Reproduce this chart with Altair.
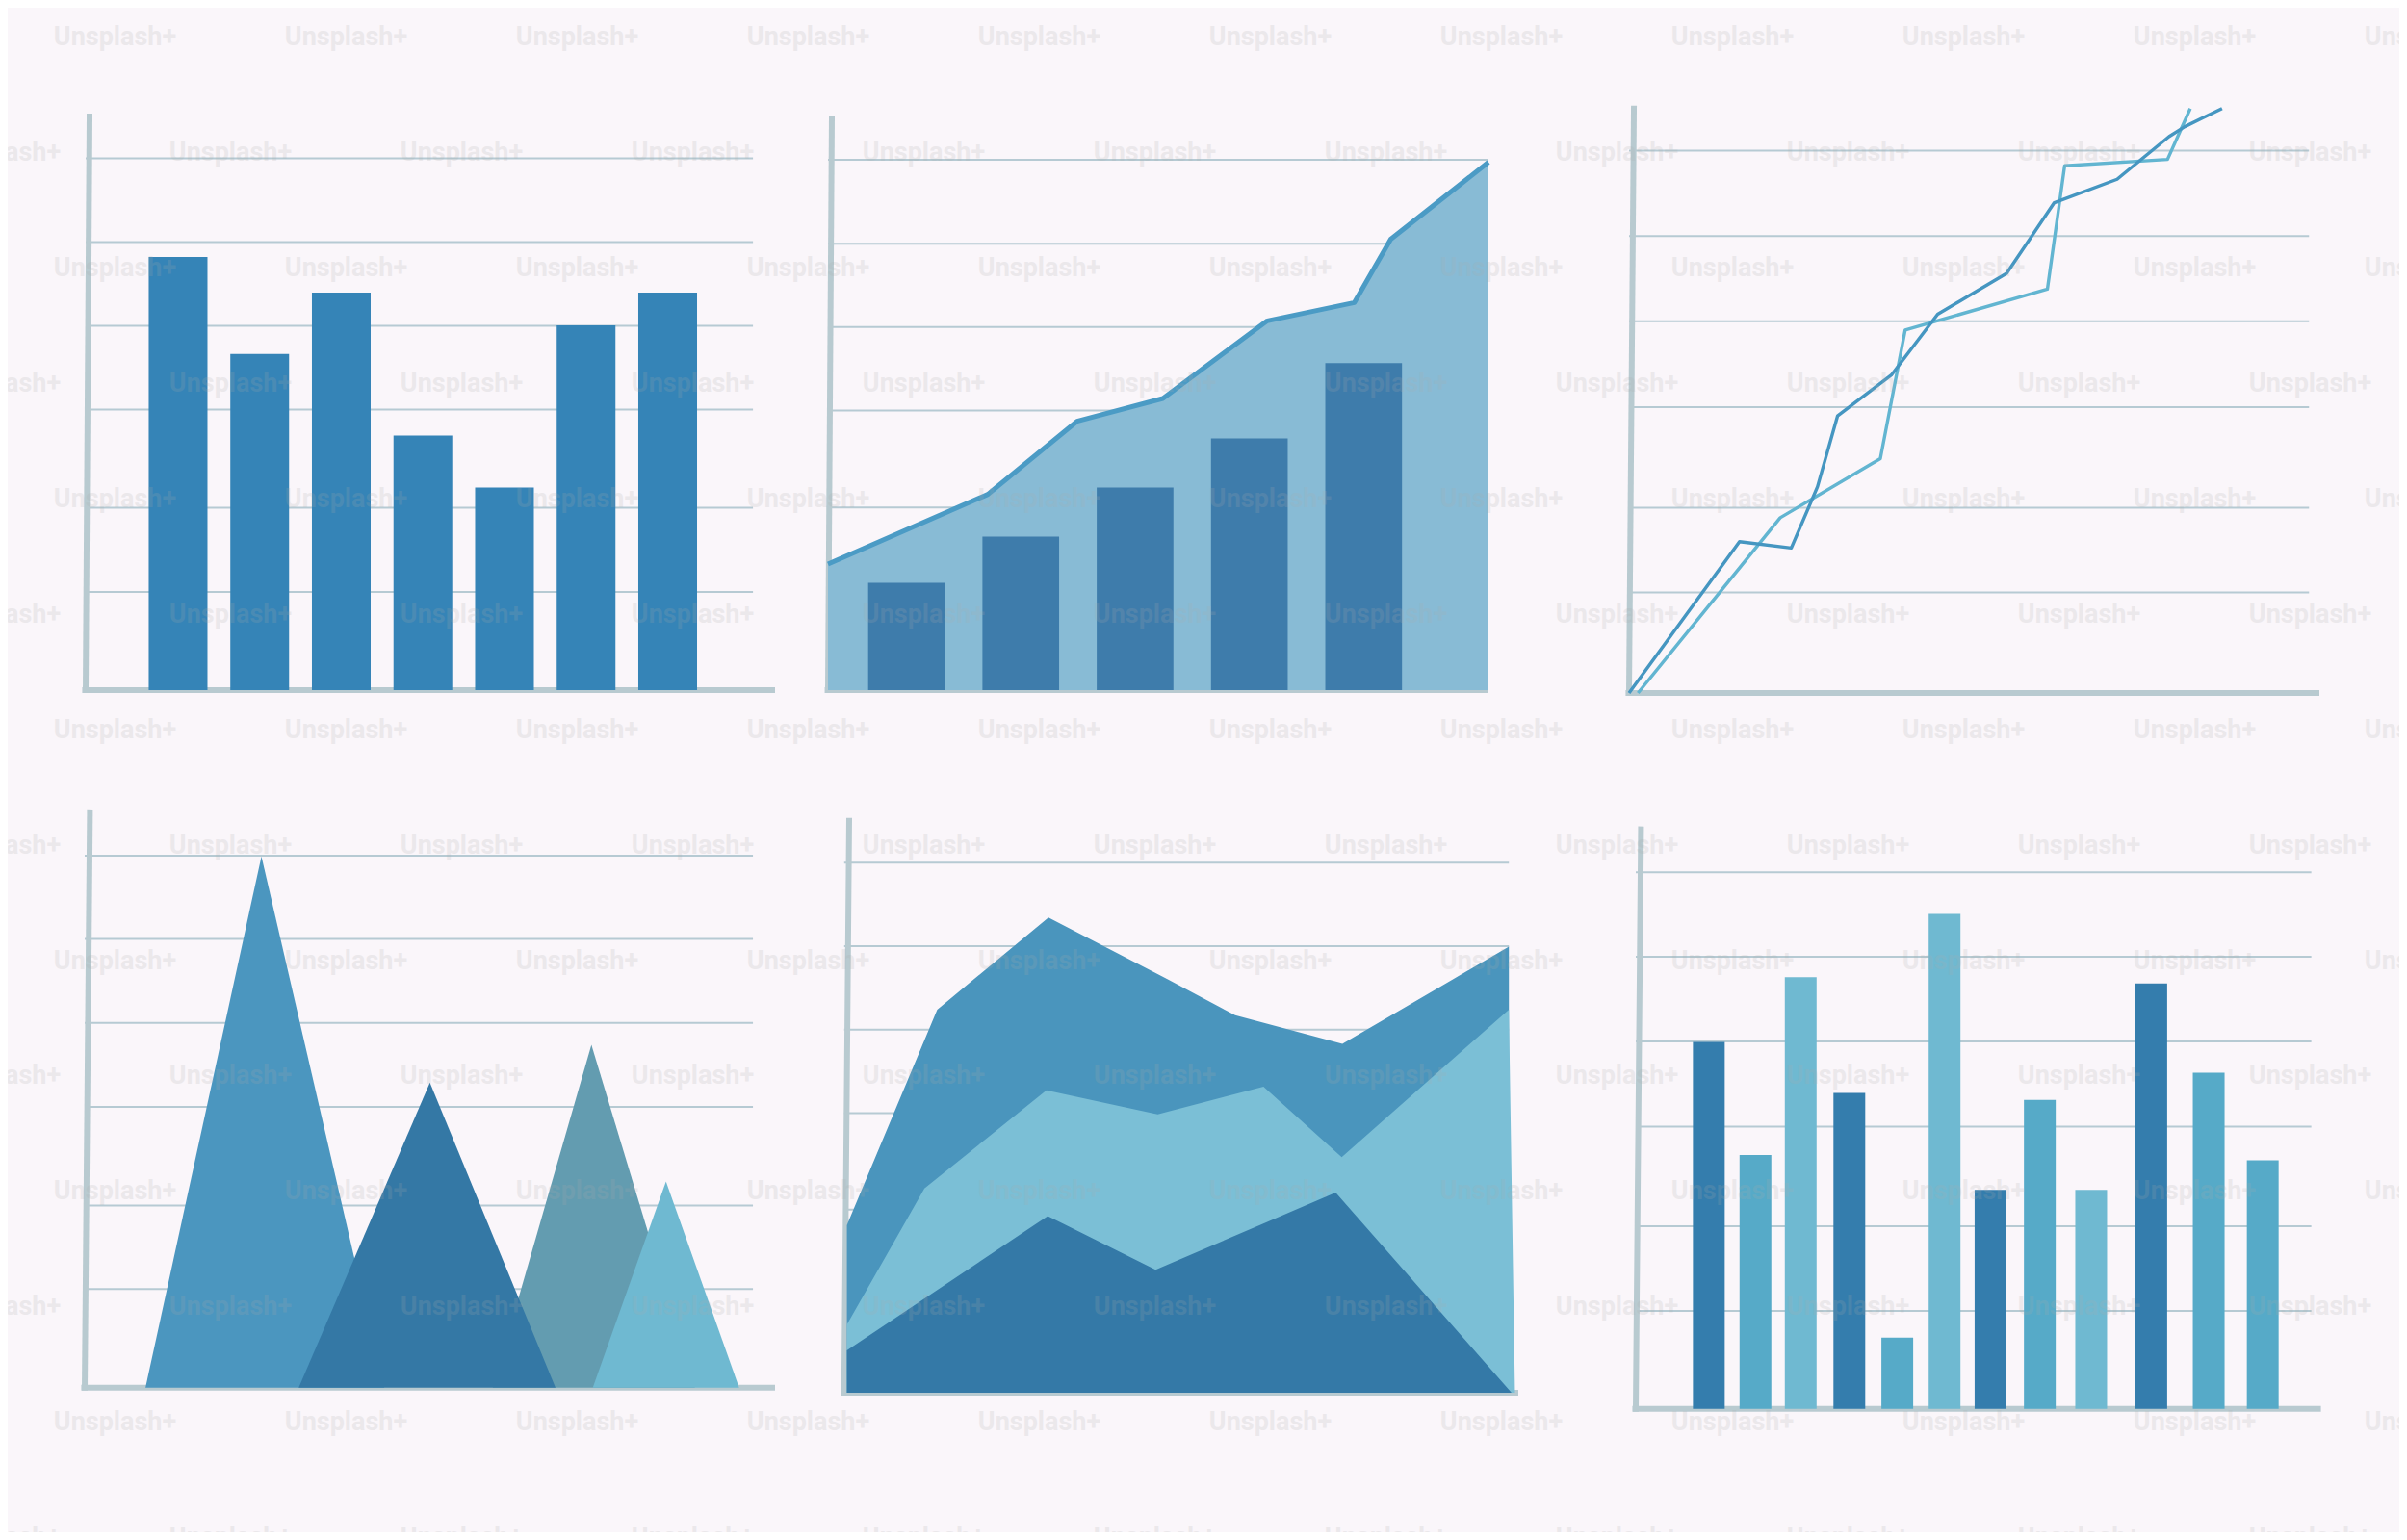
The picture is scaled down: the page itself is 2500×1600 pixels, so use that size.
import altair as alt
import pandas as pd

# ---------------- data (values in % of each panel's axis extent) ----------------
# Panel 1 - bar chart
p1_cats = ["a", "b", "c", "d", "e", "f", "g"]
p1_vals = [75.5, 58.6, 69.3, 44.4, 35.3, 63.6, 69.3]
p1_grid = [17.1, 31.8, 48.9, 63.5, 78.1, 92.7]

# Panel 2 - bars under an area with outline
p2_cats = ["a", "b", "c", "d", "e"]
p2_bars = [18.8, 26.9, 35.5, 44.1, 57.3]
p2_x = [0, 24.2, 37.7, 50.7, 66.5, 79.7, 85.2, 100]
p2_y = [22.1, 34.3, 47.1, 51.1, 64.7, 67.9, 79.0, 92.5]
p2_grid = [17.4, 32.0, 49.0, 63.6, 78.2, 92.9]

# Panel 3 - two lines
p3_a_x = [0, 16.0, 23.5, 27.3, 30.2, 38.0, 44.7, 54.7, 61.6, 70.7, 78.2, 80.5, 85.9]
p3_a_y = [0, 25.9, 24.8, 35.3, 47.4, 54.4, 64.8, 71.8, 83.9, 87.9, 95.2, 96.9, 100]
p3_b_x = [1.3, 21.9, 36.4, 40.0, 60.6, 63.1, 78.0, 81.3]
p3_b_y = [0, 30.0, 40.1, 62.1, 69.1, 90.2, 91.3, 100]
p3_grid = [17.2, 31.7, 48.9, 63.6, 78.2, 92.8]

# Panel 4 - triangles (drawing order)
p4_names = ["t1", "t3", "t2", "t4"]
p4_left = [8.8, 59.1, 31.0, 73.6]
p4_apex = [25.6, 73.4, 50.0, 84.2]
p4_right = [43.4, 88.4, 68.2, 94.8]
p4_height = [92.5, 59.7, 53.1, 35.9]
p4_grid = [17.2, 31.7, 48.9, 63.5, 78.1, 92.6]

# Panel 5 - overlapping areas (back to front)
p5_back_x = [0.4, 13.8, 30.3, 46.7, 58.0, 73.9, 98.6]
p5_back_y = [29.3, 67.0, 83.1, 73.1, 66.0, 61.0, 78.0]
p5_mid_x = [0.4, 11.9, 30.0, 46.5, 62.2, 73.8, 98.6, 99.5]
p5_mid_y = [11.9, 35.7, 52.9, 48.7, 53.5, 41.2, 67.0, 0]
p5_front_x = [0.4, 30.2, 46.2, 72.9, 99.0]
p5_front_y = [7.4, 30.9, 21.5, 35.0, 0]
p5_grid = [17.3, 32.0, 48.9, 63.5, 78.1, 92.7]

# Panel 6 - bar chart with three tones (bar centres along the x axis)
p6_pos = [10.1, 17.0, 23.7, 30.9, 38.0, 45.0, 51.8, 59.1, 66.7, 75.6, 84.1, 92.1]
p6_tone = ["dark", "mid", "light", "dark", "mid", "light", "dark", "mid", "light", "dark", "mid", "mid"]
p6_vals = [63.3, 43.8, 74.5, 54.5, 12.3, 85.4, 37.8, 53.3, 37.8, 73.4, 58.0, 42.9]
p6_grid = [16.9, 31.5, 48.7, 63.4, 78.0, 92.6]

# Watermark lattice
wm_rows = list(range(14))
wm_even_cols = [0, 1, 2, 3, 4, 5, 6, 7, 8, 9, 10]
wm_odd_cols = [-0.5, 0.5, 1.5, 2.5, 3.5, 4.5, 5.5, 6.5, 7.5, 8.5, 9.5]

# ---------------- layout / style ----------------
OFF = 8
BG = "#faf6fa"
AX = "#b8cad0"
GRID = "#b6cad3"

P1 = dict(x=(89, 805), y=(717, 121), tilt=0.56, gend=96.8)
P2 = dict(x=(860, 1546), y=(717, 124), tilt=0.58, gend=100)
P3 = dict(x=(1692, 2409), y=(720, 112.8), tilt=0.7, gend=98.5)
P4 = dict(x=(88, 805), y=(1441.8, 844.9), tilt=0.75, gend=96.8)
P5 = dict(x=(876.8, 1577), y=(1447, 852.8), tilt=0.74, gend=98.6)
P6 = dict(x=(1699, 2410.6), y=(1463.8, 861.6), tilt=0.76, gend=98.6)


def xs(p):
    return alt.Scale(domain=[0, 100], range=[p["x"][0] - OFF, p["x"][1] - OFF])


def ys(p):
    return alt.Scale(domain=[0, 100], range=[p["y"][0] - OFF, p["y"][1] - OFF])


def xband(p, cats, pi, po, al):
    return alt.Scale(domain=cats, range=[p["x"][0] - OFF, p["x"][1] - OFF],
                     paddingInner=pi, paddingOuter=po, align=al)


def grid_layer(p, vals):
    df = pd.DataFrame({"g": vals})
    return alt.Chart(df).mark_rule(color=GRID, strokeWidth=2).encode(
        y=alt.Y("g:Q", scale=ys(p), axis=None),
        x=alt.XDatum(0, type="quantitative", scale=xs(p), axis=None),
        x2=alt.X2Datum(p["gend"]),
    )


def axis_layers(p):
    one = pd.DataFrame({"k": [0]})
    yax = alt.Chart(one).mark_rule(color=AX, strokeWidth=6, strokeCap="square").encode(
        x=alt.XDatum(0, type="quantitative", scale=xs(p), axis=None),
        x2=alt.X2Datum(p["tilt"]),
        y=alt.YDatum(0, type="quantitative", scale=ys(p), axis=None),
        y2=alt.Y2Datum(100),
    )
    xax = alt.Chart(one).mark_rule(color=AX, strokeWidth=6).encode(
        x=alt.XDatum(-0.5, type="quantitative", scale=xs(p), axis=None),
        x2=alt.X2Datum(100),
        y=alt.YDatum(0, type="quantitative", scale=ys(p), axis=None),
    )
    return [yax, xax]


def xy_df(xv, yv):
    return pd.DataFrame({"x": xv, "y": yv})


def area_layer(p, xv, yv, color):
    return alt.Chart(xy_df(xv, yv)).mark_area(color=color, opacity=1).encode(
        x=alt.X("x:Q", scale=xs(p), axis=None),
        y=alt.Y("y:Q", scale=ys(p), axis=None, stack=None),
    )


def line_layer(p, xv, yv, color, w):
    return alt.Chart(xy_df(xv, yv)).mark_line(
        color=color, strokeWidth=w, strokeJoin="round", strokeCap="butt").encode(
        x=alt.X("x:Q", scale=xs(p), axis=None),
        y=alt.Y("y:Q", scale=ys(p), axis=None),
    )


layers = []

# Panel 1
layers += [grid_layer(P1, p1_grid)] + axis_layers(P1)
layers.append(
    alt.Chart(pd.DataFrame({"c": p1_cats, "v": p1_vals})).mark_bar(color="#3584b7").encode(
        x=alt.X("c:N", sort=None, scale=xband(P1, p1_cats, 0.28, 0.864, 0.447), axis=None),
        y=alt.Y("v:Q", scale=ys(P1), axis=None),
    )
)

# Panel 2
layers += [grid_layer(P2, p2_grid)] + axis_layers(P2)
layers.append(area_layer(P2, p2_x, p2_y, "#88bbd5"))
layers.append(
    alt.Chart(pd.DataFrame({"c": p2_cats, "v": p2_bars})).mark_bar(color="#3e7cab").encode(
        x=alt.X("c:N", sort=None, scale=xband(P2, p2_cats, 0.329, 0.554, 0.317), axis=None),
        y=alt.Y("v:Q", scale=ys(P2), axis=None),
    )
)
layers.append(line_layer(P2, p2_x, p2_y, "#4b9bc5", 5))

# Panel 3
layers += [grid_layer(P3, p3_grid)] + axis_layers(P3)
layers.append(line_layer(P3, p3_b_x, p3_b_y, "#62b5d1", 3.4))
layers.append(line_layer(P3, p3_a_x, p3_a_y, "#4596c1", 3.4))

# Panel 4
layers += [grid_layer(P4, p4_grid)] + axis_layers(P4)
p4_colors = {"t1": "#4b96bf", "t3": "#639cb0", "t2": "#3478a5", "t4": "#6fb9d1"}
for i, name in enumerate(p4_names):
    layers.append(area_layer(P4, [p4_left[i], p4_apex[i], p4_right[i]],
                             [0, p4_height[i], 0], p4_colors[name]))

# Panel 5
layers += [grid_layer(P5, p5_grid)] + axis_layers(P5)
layers.append(area_layer(P5, p5_back_x, p5_back_y, "#4a95bd"))
layers.append(area_layer(P5, p5_mid_x, p5_mid_y, "#7bbfd6"))
layers.append(area_layer(P5, p5_front_x, p5_front_y, "#3479a7"))

# Panel 6
layers += [grid_layer(P6, p6_grid)] + axis_layers(P6)
layers.append(
    alt.Chart(pd.DataFrame({"x": p6_pos, "t": p6_tone, "v": p6_vals})).mark_bar(size=33).encode(
        x=alt.X("x:Q", scale=xs(P6), axis=None),
        y=alt.Y("v:Q", scale=ys(P6), axis=None),
        color=alt.Color("t:N", scale=alt.Scale(domain=["dark", "mid", "light"],
                                              range=["#347dad", "#56aac8", "#6fb9d1"]),
                        legend=None),
    )
)

# Watermark
wm = pd.DataFrame(
    [{"c": c, "r": r} for r in wm_rows for c in (wm_even_cols if r % 2 == 0 else wm_odd_cols)]
)
layers.append(
    alt.Chart(wm).mark_text(text="Unsplash+", font="Roboto", fontSize=27, fontWeight="bold",
                            color="#ababab", opacity=0.18, align="center",
                            baseline="alphabetic").encode(
        x=alt.X("c:Q", scale=alt.Scale(domain=[0, 10], range=[119.5 - OFF, 2519.5 - OFF]), axis=None),
        y=alt.Y("r:Q", scale=alt.Scale(domain=[0, 13], range=[47.3 - OFF, 47.3 + 119.9 * 13 - OFF]),
                axis=None),
    )
)

chart = (
    alt.layer(*layers)
    .resolve_scale(x="independent", y="independent", color="independent")
    .properties(width=2484, height=1584, background=BG, padding=0,
                autosize=alt.AutoSizeParams(type="none"))
    .configure_view(stroke=None)
)

chart.save("out.html", embed_options={"renderer": "svg", "actions": False})
